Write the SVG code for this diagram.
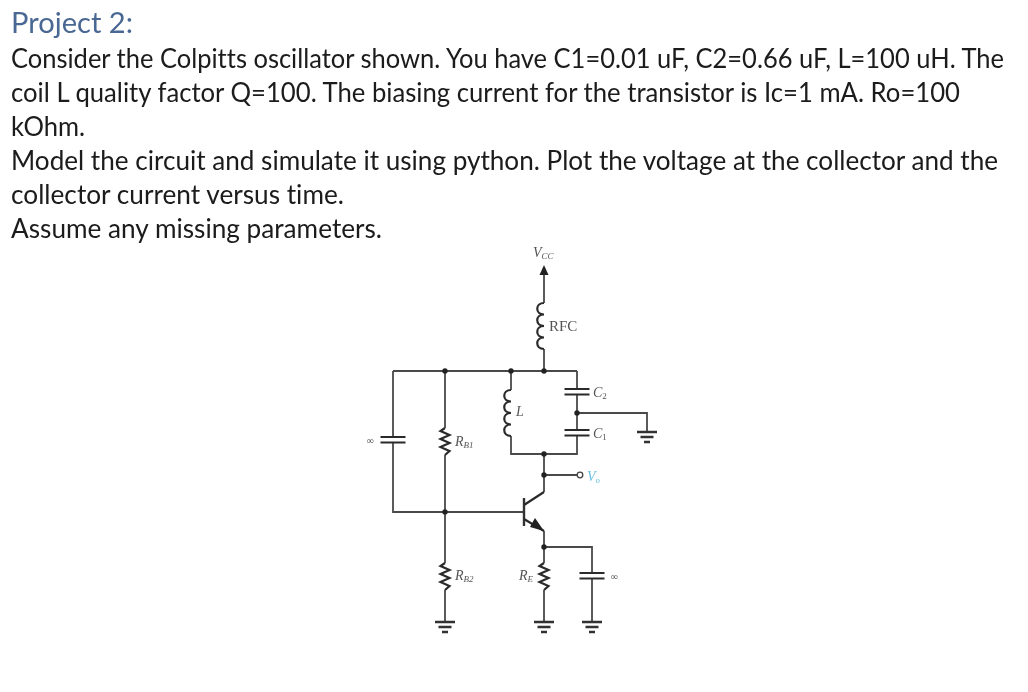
<svg xmlns="http://www.w3.org/2000/svg" width="1028" height="692" viewBox="0 0 1028 692">
<style>
.t{font-family:Lato,"Open Sans","Liberation Sans",sans-serif;font-size:26px;fill:#1a1a1a;font-variant-ligatures:none}
.w{fill:none;stroke:#4a4a4a;stroke-width:1.8}
.k{fill:none;stroke:#2b2b2b;stroke-width:2.200}
.c{fill:none;stroke:#333;stroke-width:2.400}
.d{fill:#222;stroke:none}
.l{font-family:"Liberation Serif",serif;font-size:14px;font-style:italic;fill:#555}
.s{font-size:9px;font-style:normal}
</style>
<defs>
<filter id="b" x="-2%" y="-2%" width="104%" height="104%"><feGaussianBlur stdDeviation="0.5"/></filter>
<circle id="n" r="2.700" class="d"/>
<path id="g" class="c" d="M-10 0H10M-6.500 5H6.500M-3 10H3"/>
<path id="z" class="k" d="M0 0L-4.500 3L4.500 7L-4.500 11L4.500 15L-4.500 19L4.500 23L0 27"/>
<path id="cv" class="k" d="M-12.500 0H12.500M-12.500 5.500H12.500"/>
<path id="co" class="k" d="M0 0c-9 0-9 11.500 0 11.500M0 11.500c-9 0-9 11.500 0 11.500M0 23c-9 0-9 11.500 0 11.500M0 34.500c-9 0-9 11.500 0 11.500"/>
</defs>
<g filter="url(#b)">
<g id="text">
<text class="t" x="11" y="33" style="font-size:28px;fill:#4a6894" textLength="122" lengthAdjust="spacingAndGlyphs">Project 2:</text>
<text class="t" x="11" y="68" textLength="993" lengthAdjust="spacingAndGlyphs">Consider the Colpitts oscillator shown. You have C1=0.01 uF, C2=0.66 uF, L=100 uH. The</text>
<text class="t" x="11" y="102" textLength="949" lengthAdjust="spacingAndGlyphs">coil L quality factor Q=100. The biasing current for the transistor is Ic=1 mA. Ro=100</text>
<text class="t" x="11" y="136" textLength="74" lengthAdjust="spacingAndGlyphs">kOhm.</text>
<text class="t" x="11" y="170" textLength="987" lengthAdjust="spacingAndGlyphs">Model the circuit and simulate it using python. Plot the voltage at the collector and the</text>
<text class="t" x="11" y="204" textLength="333" lengthAdjust="spacingAndGlyphs">collector current versus time.</text>
<text class="t" x="11" y="238" textLength="371" lengthAdjust="spacingAndGlyphs">Assume any missing parameters.</text>
</g>
<g id="connectors">
<path class="w" d="M393 371H577M393 371V437M393 443V512H524M445 371V428M445 455V563M445 590V622M511 371V390M511 436V454H577V436M577 371V389M577 394V430M577 413H647V432M544 270V303M544 349V371M544 454V492M544 475H578M544 531V563M544 547H592V573M592 579V622M544 590V622"/>
</g>
<g id="node-vcc">
<path class="d" d="M544 265L548.500 275H539.500Z"/>
<text class="l" x="533" y="257">V<tspan class="s" dy="2" style="font-style:italic">CC</tspan></text>
</g>
<g id="node-rfc"><use href="#co" x="544" y="303"/><text x="549" y="331" style="font-family:'Liberation Serif',serif;font-size:15px;fill:#555">RFC</text></g>
<g id="node-l"><use href="#co" x="511" y="390"/><text class="l" x="516" y="416">L</text></g>
<g id="node-c2"><use href="#cv" x="577" y="389"/><text class="l" x="593" y="397">C<tspan class="s" dy="2">2</tspan></text></g>
<g id="node-c1"><use href="#cv" x="577" y="430"/><text class="l" x="593" y="438">C<tspan class="s" dy="2">1</tspan></text></g>
<g id="node-cb"><use href="#cv" x="393" y="437"/><text x="366" y="444" style="font-family:'DejaVu Sans',sans-serif;font-size:10px;fill:#555">∞</text></g>
<g id="node-ce"><use href="#cv" x="592" y="573"/><text x="610" y="580" style="font-family:'DejaVu Sans',sans-serif;font-size:10px;fill:#555">∞</text></g>
<g id="node-rb1"><use href="#z" x="445" y="428"/><text class="l" x="455" y="446">R<tspan class="s" dy="2" style="font-style:italic">B1</tspan></text></g>
<g id="node-rb2"><use href="#z" x="445" y="563"/><text class="l" x="455" y="580">R<tspan class="s" dy="2" style="font-style:italic">B2</tspan></text></g>
<g id="node-re"><use href="#z" x="544" y="563"/><text class="l" x="519" y="580">R<tspan class="s" dy="2" style="font-style:italic">E</tspan></text></g>
<g id="node-q">
<path class="c" d="M524 498V526"/>
<path class="k" d="M524 505L544 492M524 519L544 531"/>
<path class="d" d="M544 531L530 527L535 518Z"/>
</g>
<g id="node-vo">
<circle cx="580" cy="475" r="2.800" fill="#fff" stroke="#444" stroke-width="1.300"/>
<text class="l" x="587" y="481" style="fill:#6cc0e0">V<tspan class="s" dy="2">o</tspan></text>
</g>
<g id="grounds">
<use href="#g" x="647" y="432"/>
<use href="#g" x="445" y="622"/>
<use href="#g" x="544" y="622"/>
<use href="#g" x="592" y="622"/>
</g>
<g id="junctions">
<use href="#n" x="445" y="371"/><use href="#n" x="511" y="371"/><use href="#n" x="544" y="371"/>
<use href="#n" x="577" y="413"/><use href="#n" x="544" y="454"/><use href="#n" x="544" y="475"/>
<use href="#n" x="445" y="512"/><use href="#n" x="544" y="547"/>
</g>
</g>
</svg>
